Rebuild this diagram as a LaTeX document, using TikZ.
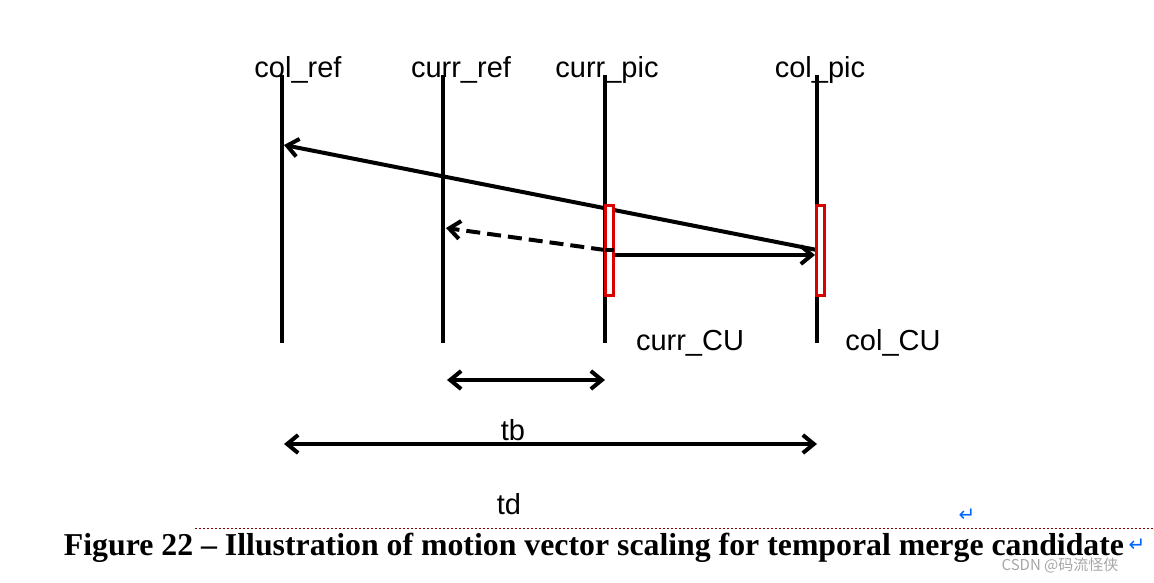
\documentclass[tikz,border=0pt]{standalone}
\usepackage{fontspec}
\setmainfont{Liberation Serif}
\newfontfamily\lbl{Liberation Sans}
\newfontfamily\dv{DejaVu Sans}
\newfontfamily\cjk{Noto Sans CJK SC}
\usetikzlibrary{arrows.meta}
\begin{document}
\begin{tikzpicture}[x=1pt,y=-1pt,
  tl/.style={line width=4.5pt},
  lab/.style={font=\lbl\fontsize{29}{31}\selectfont,inner sep=0pt},
  arr/.style={line width=4pt,-{Straight Barb[length=11pt,width=18pt]}},
  darr/.style={line width=4pt,{Straight Barb[length=11pt,width=18pt]}-{Straight Barb[length=11pt,width=18pt]}},
  cu/.style={draw=red!85!black,line width=3pt,fill=white}]
\useasboundingbox (0,0) rectangle (1154,582);
\coordinate (a1) at (282,75); \coordinate (a2) at (282,343);
\coordinate (b1) at (443,75); \coordinate (b2) at (443,343);
\coordinate (c1) at (605,75); \coordinate (c2) at (605,343);
\coordinate (d1) at (817,75); \coordinate (d2) at (817,343);
\draw[tl] (a1)--(a2); \draw[tl] (b1)--(b2); \draw[tl] (c1)--(c2); \draw[tl] (d1)--(d2);
\node[lab] (lcr) at (298,70) {col\_ref};
\node[lab] (lcur) at (461,70) {curr\_ref};
\node[lab] (lcp) at (607,70) {curr\_pic};
\node[lab] (lcop) at (820,70) {col\_pic};
\coordinate (s1) at (817,250); \coordinate (e1) at (284,145);
\coordinate (s2) at (605,250); \coordinate (e2) at (446,228);
\coordinate (s3) at (610,255); \coordinate (e3) at (815,255);
\draw[arr] (s1)--(e1);
\draw[arr,dash pattern=on 14pt off 7pt] (s2)--(e2);
\draw[arr] (s3)--(e3);
\node[cu,minimum width=8pt,minimum height=90pt,inner sep=0pt] (cu1) at (609,250) {};
\node[cu,minimum width=8pt,minimum height=90pt,inner sep=0pt] (cu2) at (820,250) {};
\draw[line width=4pt] (605,250)--(614,250);
\node[lab] (lcu1) at (690,343) {curr\_CU};
\node[lab] (lcu2) at (893,343) {col\_CU};
\coordinate (t1) at (447,380); \coordinate (t2) at (605,380);
\draw[darr] (t1)--(t2);
\node[lab] (ltb) at (513,430) {tb};
\coordinate (u1) at (284,444); \coordinate (u2) at (817,444);
\draw[darr] (u1)--(u2);
\node[lab] (ltd) at (509,504) {td};
\draw[red!50!black,dash pattern=on 2pt off 2pt,line width=0.8pt] (195,528)--(1154,528);
\node[font=\bfseries\fontsize{31.8}{33}\selectfont,inner sep=0pt] (cap) at (594,548) {Figure 22 -- Illustration of motion vector scaling for temporal merge candidate};
\node[text=blue!60!cyan,font=\dv\fontsize{20}{22}\selectfont,inner sep=0pt] (r1) at (967,515) {↵};
\node[text=blue!60!cyan,font=\dv\fontsize{20}{22}\selectfont,inner sep=0pt] (r2) at (1137,545) {↵};
\node[text=gray!70,font=\cjk\fontsize{15}{17}\selectfont,inner sep=0pt] (wm) at (1060,565) {CSDN @码流怪侠};
\end{tikzpicture}
\end{document}
